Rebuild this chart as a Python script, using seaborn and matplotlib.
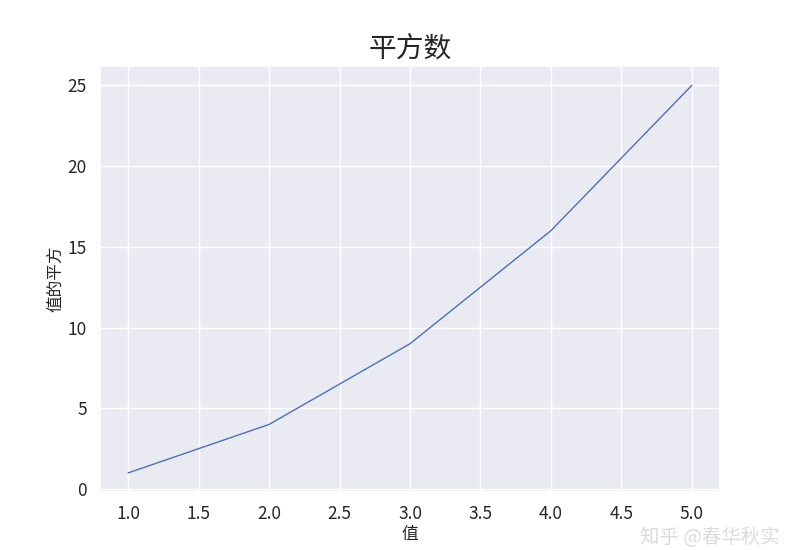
import matplotlib
matplotlib.use("Agg")
import matplotlib.pyplot as plt
import seaborn as sns
import pandas as pd

values = [1, 2, 3, 4, 5]
squares = [1, 4, 9, 16, 25]
title = "平方数"
xlabel = "值"
ylabel = "值的平方"
watermark = "知乎 @春华秋实"

sns.set_theme(style="darkgrid")
plt.rcParams['font.family'] = ['Noto Sans CJK SC', 'DejaVu Sans']
plt.rcParams['axes.unicode_minus'] = False

df = pd.DataFrame({"x": values, "y": squares})
fig = plt.figure(figsize=(8, 5.5), dpi=100)
ax = fig.add_axes([0.125, 0.105, 0.775, 0.775])
sns.lineplot(data=df, x="x", y="y", ax=ax, linewidth=1, color="#4c72b0")
ax.set_title(title, fontsize=20, pad=6)
ax.set_xlabel(xlabel, fontsize=12, labelpad=2)
ax.set_ylabel(ylabel, fontsize=12, labelpad=2)
ax.tick_params(labelsize=12.5)
ticks = [1.0, 1.5, 2.0, 2.5, 3.0, 3.5, 4.0, 4.5, 5.0]
ax.set_xticks(ticks)
ax.set_xticklabels([f"{v:.1f}" for v in ticks])
ax.set_yticks([0, 5, 10, 15, 20, 25])
fig.text(0.975, 0.022, watermark, ha="right", va="center", fontsize=14,
         color="#d8d8d8", alpha=0.9)
fig.savefig("out.png", dpi=100)
